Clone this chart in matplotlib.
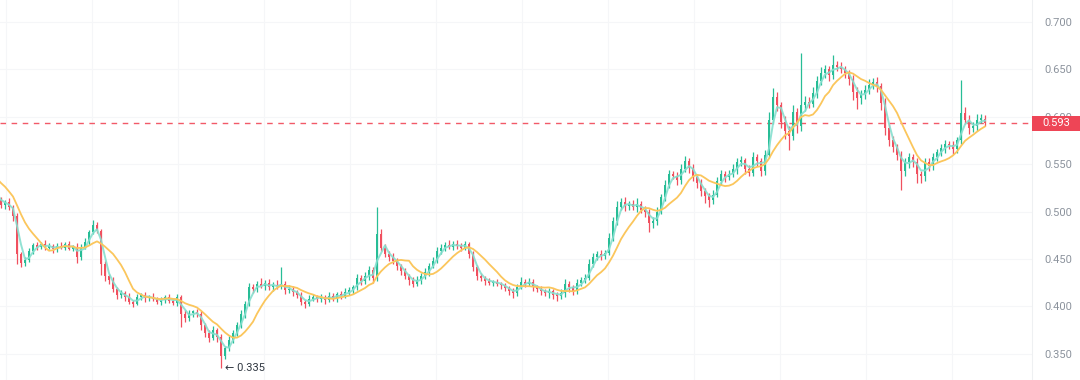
import numpy as np
import pandas as pd
import matplotlib
matplotlib.use("Agg")
import matplotlib.pyplot as plt
from matplotlib.patches import Rectangle
import matplotlib.transforms as mtransforms

# hidden candles before the visible window (only feed the moving averages)
warmup_closes = [0.548, 0.545, 0.550, 0.543, 0.538, 0.532, 0.526, 0.518, 0.512]

# visible closes, read left to right
closes = [
    0.507, 0.510, 0.505, 0.495, 0.455, 0.446, 0.449, 0.458, 0.465, 0.463,
    0.466, 0.462, 0.464, 0.460, 0.464, 0.462, 0.466, 0.461, 0.463, 0.452,
    0.463, 0.468, 0.478, 0.486, 0.480, 0.445, 0.432, 0.428, 0.418, 0.412,
    0.414, 0.410, 0.405, 0.403, 0.410, 0.412, 0.409, 0.410, 0.408, 0.405,
    0.407, 0.410, 0.406, 0.404, 0.410, 0.392, 0.388, 0.393, 0.394, 0.392,
    0.380, 0.372, 0.367, 0.375, 0.368, 0.348, 0.356, 0.365, 0.372, 0.380,
    0.392, 0.403, 0.420, 0.418, 0.424, 0.421, 0.425, 0.420, 0.423, 0.421,
    0.424, 0.417, 0.418, 0.415, 0.412, 0.405, 0.403, 0.408, 0.410, 0.408,
    0.410, 0.407, 0.411, 0.409, 0.413, 0.411, 0.415, 0.417, 0.420, 0.430,
    0.427, 0.432, 0.438, 0.430, 0.476, 0.462, 0.455, 0.452, 0.448, 0.443,
    0.437, 0.432, 0.428, 0.424, 0.428, 0.432, 0.436, 0.443, 0.448, 0.458,
    0.462, 0.465, 0.463, 0.466, 0.464, 0.462, 0.466, 0.455, 0.442, 0.432,
    0.430, 0.427, 0.425, 0.426, 0.424, 0.422, 0.419, 0.416, 0.414, 0.420,
    0.426, 0.424, 0.426, 0.420, 0.418, 0.416, 0.414, 0.416, 0.412, 0.411,
    0.414, 0.424, 0.420, 0.416, 0.425, 0.428, 0.430, 0.445, 0.452, 0.455,
    0.453, 0.456, 0.472, 0.490, 0.505, 0.510, 0.506, 0.508, 0.505, 0.508,
    0.502, 0.500, 0.488, 0.490, 0.500, 0.515, 0.528, 0.540, 0.538, 0.533,
    0.545, 0.553, 0.546, 0.536, 0.530, 0.522, 0.516, 0.512, 0.518, 0.532,
    0.540, 0.536, 0.540, 0.545, 0.552, 0.554, 0.545, 0.541, 0.558, 0.553,
    0.543, 0.560, 0.597, 0.621, 0.612, 0.595, 0.585, 0.580, 0.605, 0.590,
    0.612, 0.616, 0.614, 0.625, 0.638, 0.646, 0.650, 0.644, 0.655, 0.653,
    0.650, 0.646, 0.640, 0.626, 0.620, 0.624, 0.628, 0.634, 0.637, 0.632,
    0.615, 0.588, 0.575, 0.568, 0.560, 0.543, 0.552, 0.558, 0.552, 0.540,
    0.538, 0.552, 0.548, 0.558, 0.563, 0.567, 0.571, 0.570, 0.566, 0.575,
    0.604, 0.597, 0.588, 0.590, 0.597, 0.598, 0.593,
]

# wick lengths above / below the body, in thousandths
upper_wick = [
    3, 2, 4, 2, 3, 2, 3, 4, 2, 3,  2, 4, 3, 2, 3, 4, 2, 3, 2, 4,
    3, 4, 3, 5, 3, 2, 3, 2, 3, 2,  3, 2, 4, 2, 3, 2, 3, 2, 4, 2,
    3, 2, 3, 2, 3, 2, 4, 3, 2, 3,  3, 2, 3, 4, 2, 3, 2, 4, 3, 3,
    4, 3, 5, 4, 3, 6, 3, 4, 3, 5,  18, 3, 4, 3, 2, 3, 2, 4, 3, 2,
    3, 2, 4, 3, 2, 3, 4, 3, 2, 4,  3, 4, 5, 3, 29, 6, 4, 3, 4, 3,
    2, 3, 2, 3, 4, 3, 4, 3, 4, 5,  4, 3, 5, 3, 4, 3, 3, 2, 3, 2,
    3, 2, 3, 2, 3, 2, 3, 2, 3, 4,  5, 3, 4, 3, 2, 3, 2, 3, 2, 3,
    4, 5, 3, 2, 4, 3, 4, 5, 4, 3,  4, 3, 5, 4, 6, 4, 5, 3, 4, 6,
    3, 4, 3, 4, 5, 4, 5, 4, 3, 4,  5, 6, 3, 4, 3, 4, 3, 4, 5, 4,
    4, 3, 4, 5, 4, 5, 3, 4, 5, 3,  4, 5, 8, 9, 5, 4, 6, 5, 7, 4,
    55, 6, 5, 6, 5, 6, 5, 4, 10, 4,  5, 4, 3, 4, 5, 4, 5, 6, 4, 5,
    4, 5, 4, 5, 3, 4, 5, 4, 3, 4,  3, 4, 5, 4, 3, 4, 5, 3, 4, 4,
    35, 6, 5, 4, 6, 5, 4,
]
lower_wick = [
    3, 4, 3, 5, 10, 5, 3, 2, 3, 4,  2, 3, 2, 4, 3, 2, 3, 2, 3, 6,
    3, 2, 3, 2, 3, 12, 5, 4, 3, 4,  3, 4, 3, 4, 2, 3, 4, 3, 2, 3,
    4, 3, 2, 3, 4, 14, 4, 3, 4, 3,  5, 4, 5, 3, 6, 13, 4, 3, 4, 3,
    3, 4, 3, 4, 3, 2, 4, 3, 4, 3,  3, 4, 3, 4, 3, 4, 5, 3, 2, 3,
    3, 4, 2, 3, 4, 3, 2, 3, 4, 3,  4, 3, 4, 5, 3, 4, 3, 4, 3, 5,
    4, 3, 5, 4, 3, 4, 3, 4, 3, 2,  3, 4, 3, 4, 3, 4, 3, 4, 5, 4,
    3, 4, 3, 4, 3, 4, 3, 4, 5, 3,  2, 4, 3, 4, 3, 4, 3, 5, 4, 5,
    3, 4, 5, 4, 3, 4, 3, 2, 4, 3,  4, 3, 2, 3, 4, 3, 5, 4, 3, 5,
    4, 6, 10, 5, 4, 3, 4, 3, 4, 5,  4, 3, 5, 4, 5, 6, 7, 7, 4, 3,
    4, 5, 3, 4, 5, 4, 5, 4, 3, 5,  6, 4, 3, 5, 6, 7, 8, 15, 5, 7,
    5, 6, 5, 4, 5, 4, 5, 6, 4, 5,  4, 5, 6, 8, 12, 6, 5, 4, 5, 6,
    8, 7, 6, 5, 6, 20, 5, 6, 5, 10,  8, 6, 5, 4, 5, 4, 5, 4, 5, 4,
    4, 5, 6, 4, 5, 4, 3,
]

last_price = 0.593
low_mark = 0.335
low_index = 55
y_ticks = [0.35, 0.40, 0.45, 0.50, 0.55, 0.60, 0.65, 0.70]

UP = "#27bd96"
DOWN = "#f0505f"

all_close = pd.Series(warmup_closes + closes)
opens = all_close.shift(1).bfill().values[len(warmup_closes):]
close = np.array(closes)
top = np.maximum(opens, close)
bot = np.minimum(opens, close)
highs = top + np.array(upper_wick) / 1000
lows = bot - np.array(lower_wick) / 1000

x = np.arange(len(closes))
x_all = np.arange(-len(warmup_closes), len(closes))
ma_fast = all_close.rolling(3, min_periods=1).mean()
ma_slow = all_close.rolling(9, min_periods=1).mean()

fig = plt.figure(figsize=(10.8, 3.8), dpi=100)
ax = fig.add_axes([0, 0, 1032 / 1080, 1])

colors = np.where(close >= opens, UP, DOWN)
ax.vlines(x, lows, highs, colors=colors, linewidth=0.9, zorder=3)
ax.bar(x, np.maximum(top - bot, 0.0018), bottom=bot, width=0.66,
       color=colors, linewidth=0, zorder=3)

ax.plot(x_all, ma_fast, color="#86dfcf", linewidth=1.4, alpha=0.9, zorder=4)
ax.plot(x_all, ma_slow, color="#fbc65c", linewidth=1.3, zorder=4)

ax.axhline(last_price, color="#f25a68", linestyle=(0, (4, 4)),
           linewidth=1.0, zorder=2)

ax.set_xlim(-0.25, 1032 / 4 - 0.25)
ax.set_ylim(0.3223, 0.7232)

ax.set_xticks(np.arange(1.25, 258, 21.5))
ax.set_yticks(y_ticks)
ax.set_yticklabels([f"{v:.3f}" for v in y_ticks])
ax.yaxis.tick_right()
ax.tick_params(axis="x", length=0, labelbottom=False)
ax.tick_params(axis="y", length=0, pad=9, labelsize=8, labelcolor="#8c939d")
for lab in ax.get_yticklabels():
    lab.set_fontfamily("Roboto")
ax.grid(True, color="#f5f6f8", linewidth=0.8, zorder=0)
ax.set_axisbelow(True)

for side in ["left", "top", "bottom"]:
    ax.spines[side].set_visible(False)
ax.spines["right"].set_color("#eef0f2")
ax.spines["right"].set_linewidth(0.8)

# last price tag on the right axis (covers most of the 0.600 label, as in the source)
trans = mtransforms.blended_transform_factory(ax.transAxes, ax.transData)
ax.add_patch(Rectangle((1.0, last_price - 0.0078), 48 / 1032, 0.0158,
                       transform=trans, facecolor="#ee4556", edgecolor="none",
                       clip_on=False, zorder=10))
ax.text(1.0 + 24 / 1032, last_price, f"{last_price:.3f}", transform=trans,
        ha="center", va="center", color="white", fontsize=8,
        family="Roboto", zorder=11, clip_on=False)

# lowest price marker
ax.text(low_index + 0.9, low_mark, f"\u2190 {low_mark:.3f}", ha="left",
        va="center", fontsize=8, color="#2f3640",
        family=["Roboto", "DejaVu Sans"], zorder=6)

fig.savefig("out.png", dpi=100, facecolor="white")
